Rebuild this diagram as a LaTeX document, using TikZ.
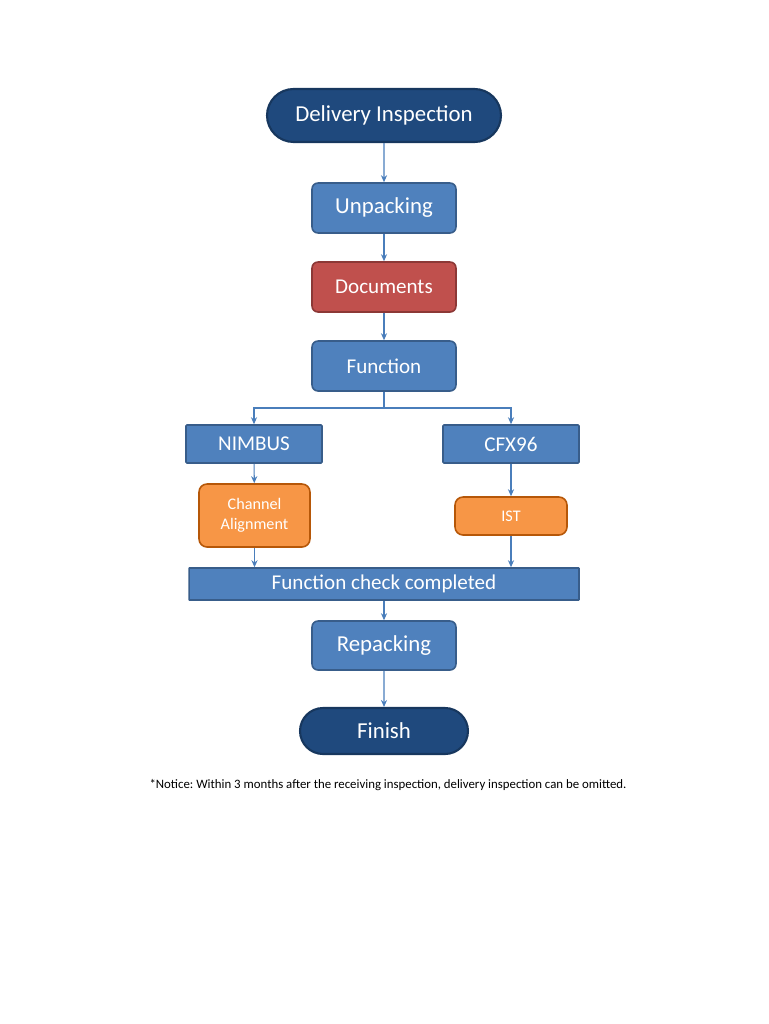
\documentclass[tikz,border=0pt]{standalone}
\usepackage{fontspec}
\setmainfont{Carlito}
\usepackage{tikz}
\usetikzlibrary{arrows.meta, shapes.misc}
\frenchspacing

\definecolor{navy}{HTML}{1F497D}
\definecolor{navyline}{HTML}{17375E}
\definecolor{boxblue}{HTML}{4F81BD}
\definecolor{boxline}{HTML}{385D8A}
\definecolor{docred}{HTML}{C0504D}
\definecolor{docline}{HTML}{8C3836}
\definecolor{orng}{HTML}{F79646}
\definecolor{orngline}{HTML}{B65708}
\definecolor{arrblue}{HTML}{4A7EBB}

\tikzset{
  endpill/.style={rounded rectangle, draw=navyline, line width=1.2pt, fill=navy,
    text=white, font=\fontsize{13}{15}\selectfont, inner sep=0pt},
  procbox/.style={rectangle, rounded corners=0.12cm, draw=boxline, line width=0.9pt,
    fill=boxblue, text=white, minimum width=2.88cm, minimum height=1cm, inner sep=0pt},
  docbox/.style={procbox, draw=docline, fill=docred},
  devbox/.style={rectangle, rounded corners=0.02cm, draw=boxline, line width=0.9pt,
    fill=boxblue, text=white, minimum width=2.72cm, minimum height=0.76cm,
    font=\fontsize{12}{14}\selectfont, inner sep=0pt},
  testbox/.style={rectangle, rounded corners=0.16cm, draw=orngline, line width=0.9pt,
    fill=orng, text=white, font=\fontsize{9.2}{11.3}\selectfont, align=center, inner sep=0pt},
  arr/.style={draw=arrblue, line width=0.6pt, -{Stealth[length=4pt,width=3.5pt]}}
}

\begin{document}
\begin{tikzpicture}[x=0.02cm, y=-0.02cm]
\useasboundingbox (0,0) rectangle (768,1024);

% main column
\node[endpill, minimum width=4.68cm, minimum height=1.06cm] (start) at (384,115.5) {Delivery Inspection};
\node[procbox, font=\fontsize{13}{15}\selectfont] (unpack) at (384,208) {Unpacking};
\node[docbox, font=\fontsize{12}{14}\selectfont] (docs) at (384,287) {Documents};
\node[procbox, font=\fontsize{12}{14}\selectfont] (func) at (384,366) {Function};

% two devices
\node[devbox] (nimbus) at (254,444) {NIMBUS};
\node[devbox] (cfx) at (511,444) {CFX96};
\node[testbox, minimum width=2.22cm, minimum height=1.26cm] (chan) at (254.5,515.5) {Channel\\Alignment};
\node[testbox, minimum width=2.24cm, minimum height=0.76cm] (ist) at (511,516) {IST};

\node[devbox, minimum width=7.8cm, minimum height=0.64cm, rounded corners=0.01cm] (check) at (384,584) {Function check completed};
\node[procbox, font=\fontsize{13}{15}\selectfont, minimum height=0.98cm] (repack) at (384,645.5) {Repacking};
\node[endpill, minimum width=3.36cm, minimum height=0.92cm] (finish) at (384,731) {Finish};

\node[font=\fontsize{7.3}{9}\selectfont] (notice) at (388,785) {*Notice: Within 3 months after the receiving inspection, delivery inspection can be omitted.};

\coordinate (split) at (384,408);

\draw[arr] (start) -- (unpack);
\draw[arr] (unpack) -- (docs);
\draw[arr] (docs) -- (func);
\draw[draw=arrblue, line width=0.6pt] (func) -- (split);
\draw[arr] (split) -| (nimbus);
\draw[arr] (split) -| (cfx);
\draw[arr] (nimbus) -- (chan);
\draw[arr] (cfx) -- (ist);
\draw[arr] (chan) -- (chan |- check.north);
\draw[arr] (ist) -- (ist |- check.north);
\draw[arr] (check) -- (repack);
\draw[arr] (repack) -- (finish);
\end{tikzpicture}
\end{document}
